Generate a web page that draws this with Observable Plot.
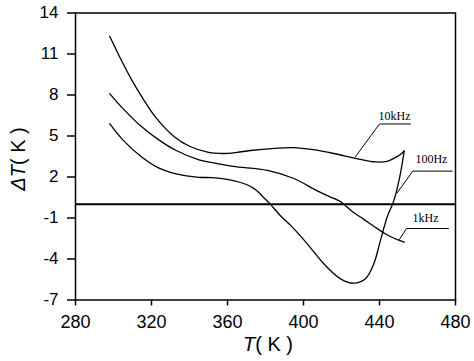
<!DOCTYPE html>
<html>
<head>
<meta charset="utf-8">
<script src="https://cdn.jsdelivr.net/npm/d3@7"></script>
<script src="https://cdn.jsdelivr.net/npm/@observablehq/plot@0.6"></script>
<style>
html, body { margin: 0; padding: 0; background: #fff; }
</style>
</head>
<body>
<div id="chart"></div>
<script>
// ---- data ----
const xTicks = [280, 320, 360, 400, 440, 480];
const yTicks = [14, 11, 8, 5, 2, -1, -4, -7];

const t10k = [298, 305, 310, 315, 322, 332, 340, 350, 358, 365, 372, 385, 395, 405, 416, 428, 438, 444, 448, 451, 453];
const v10k = [12.3, 10.3, 9.0, 7.85, 6.4, 4.95, 4.25, 3.8, 3.72, 3.8, 3.94, 4.1, 4.15, 4.0, 3.72, 3.35, 3.1, 3.15, 3.4, 3.65, 3.9];

const t1k = [298, 305, 315, 324, 333, 345, 352, 363, 381, 395, 407, 414, 419.5, 425, 431.7, 437, 443, 448, 453];
const v1k = [8.1, 7.0, 5.65, 4.7, 3.94, 3.25, 3.05, 2.77, 2.48, 1.89, 1.0, 0.55, 0.2, -0.45, -1.1, -1.6, -2.15, -2.5, -2.77];

const t100 = [298, 305, 315, 324, 333, 345, 352, 363, 370, 375, 379, 382.6, 388, 394, 402, 410.7, 419.5, 426.5, 432.6, 437, 440.5, 444, 447.5, 450.5, 453];
const v100 = [5.9, 4.7, 3.45, 2.65, 2.23, 1.98, 1.95, 1.74, 1.45, 1.05, 0.5, 0.0, -0.85, -1.65, -2.89, -4.35, -5.45, -5.77, -5.45, -4.35, -2.64, -0.94, 0.25, 1.9, 3.9];

const labels = ["10kHz", "100Hz", "1kHz"];
const labelT = [439.5, 458.9, 457.4];
const labelV = [6.2, 3.05, -1.3];
// leader: curve point -> underline start -> underline end
const leadT = [[427.4, 440, 456.3], [449.3, 457.5, 478.3], [450.5, 454.2, 476.3]];
const leadV = [[3.5, 5.88, 5.88], [0.84, 2.43, 2.43], [-2.57, -1.77, -1.77]];

// ---- build tables ----
const series = [
  {name: "10kHz", t: t10k, v: v10k},
  {name: "1kHz", t: t1k, v: v1k},
  {name: "100Hz", t: t100, v: v100}
];
const lineData = series.flatMap(s => s.t.map((t, i) => ({series: s.name, T: t, dT: s.v[i]})));
const leaderData = labels.flatMap((l, k) => leadT[k].map((t, i) => ({series: l, T: t, dT: leadV[k][i]})));
const labelData = labels.map((l, k) => ({label: l, T: labelT[k], dT: labelV[k]}));

const fmt = d => String(d);

const chart = Plot.plot({
  width: 474,
  height: 361,
  marginLeft: 75,
  marginRight: 19,
  marginTop: 12.5,
  marginBottom: 61.5,
  style: {fontFamily: "'Liberation Sans', Arial, sans-serif", fontSize: "17px", color: "#000", background: "#fff"},
  x: {domain: [280, 480]},
  y: {domain: [-7, 14]},
  marks: [
    Plot.ruleY([0], {stroke: "#000", strokeWidth: 2}),
    Plot.line(lineData, {x: "T", y: "dT", z: "series", curve: "catmull-rom", stroke: "#000", strokeWidth: 1.3}),
    Plot.line(leaderData, {x: "T", y: "dT", z: "series", stroke: "#000", strokeWidth: 1}),
    Plot.text(labelData, {x: "T", y: "dT", text: "label", textAnchor: "start", lineAnchor: "bottom",
      fontFamily: "'Liberation Serif', 'Times New Roman', serif", fontSize: 12, fill: "#000"}),
    Plot.frame({stroke: "#000", strokeWidth: 1.5}),
    Plot.axisX({ticks: xTicks, tickFormat: fmt, tickSize: 6, tickPadding: 9, label: null, strokeWidth: 1.5, fontSize: 18}),
    Plot.axisY({ticks: yTicks, tickFormat: fmt, tickSize: 8, tickPadding: 9, label: null, strokeWidth: 1.5, fontSize: 17})
  ]
});

document.getElementById("chart").appendChild(chart);

// axis titles with italic T
const svg = d3.select(chart);
const xl = svg.append("text")
  .attr("x", 268).attr("y", 351)
  .attr("text-anchor", "middle")
  .attr("font-family", "'Liberation Sans', Arial, sans-serif")
  .attr("font-size", 20).attr("fill", "#000");
xl.append("tspan").attr("font-style", "italic").text("T");
xl.append("tspan").text("( K )");

const yl = svg.append("text")
  .attr("transform", "translate(25,159) rotate(-90)")
  .attr("text-anchor", "middle")
  .attr("font-family", "'Liberation Sans', Arial, sans-serif")
  .attr("font-size", 20).attr("fill", "#000");
yl.append("tspan").attr("font-style", "italic").text("ΔT");
yl.append("tspan").text("( K )");
</script>
</body>
</html>
